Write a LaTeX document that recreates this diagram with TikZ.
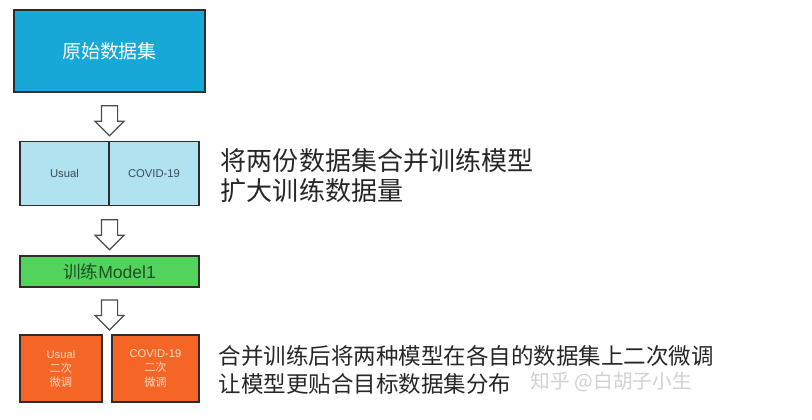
\documentclass[tikz,border=0pt]{standalone}
\usepackage{fontspec}
\setmainfont{Liberation Sans}
\newfontfamily\cjk{Noto Sans CJK SC}
\usetikzlibrary{shapes.arrows, calc}
\definecolor{rawblue}{RGB}{22, 168, 214}
\definecolor{mixblue}{RGB}{176, 226, 240}
\definecolor{traingreen}{RGB}{82, 212, 92}
\definecolor{darkgreen}{RGB}{30, 80, 35}
\definecolor{tuneorange}{RGB}{245, 102, 38}
\definecolor{paleorange}{RGB}{255, 218, 195}
\definecolor{edgegray}{RGB}{45, 45, 45}
\definecolor{labelgray}{RGB}{60, 75, 85}
\newcommand{\px}{0.025cm}

\tikzset{
  box/.style={draw=edgegray, line width=1pt, inner sep=0pt, align=center},
  downarrow/.style={single arrow, draw=black!70, fill=white, line width=0.8pt,
    rotate=-90, minimum height=30*\px, inner sep=7.5*\px,
    single arrow head extend=6.5*\px},
}

\begin{document}
\begin{tikzpicture}[x=\px, y=-\px]
  \useasboundingbox (0,0) rectangle (812,420);

  % data boxes
  \node[box, fill=rawblue, minimum width=191*\px, minimum height=82*\px, text=white,
    font=\cjk\fontsize{13.5}{16}\selectfont] (raw) at (109.5,51) {原始数据集};
  \node[box, fill=mixblue, minimum width=89*\px, minimum height=64*\px, text=labelgray,
    font=\fontsize{8}{10}\selectfont] (usual) at (64.5,173.5) {Usual};
  \node[box, fill=mixblue, minimum width=90*\px, minimum height=64*\px, text=labelgray,
    font=\fontsize{8}{10}\selectfont] (covid) at (154,173.5) {COVID-19};
  \node[box, fill=traingreen, minimum width=179*\px, minimum height=31*\px, text=darkgreen,
    font=\fontsize{12.5}{15}\selectfont] (model) at (109.5,271.5) {{\cjk 训练}Model1};
  \node[box, fill=tuneorange, minimum width=82*\px, minimum height=67*\px, text=paleorange,
    font=\fontsize{8}{10}\selectfont] (tuneusual) at (61,368.5) {Usual\\{\cjk 二次}\\{\cjk 微调}};
  \node[box, fill=tuneorange, minimum width=87*\px, minimum height=67*\px, text=paleorange,
    font=\fontsize{8}{10}\selectfont] (tunecovid) at (155.5,368.5) {COVID-19\\{\cjk 二次}\\{\cjk 微调}};

  % hollow arrows between steps
  \node[downarrow] (step1) at ($(raw.south)!0.5!(raw.south |- usual.north)$) {};
  \node[downarrow] (step2) at ($(model.north)!0.5!(model.north |- usual.south)$) {};
  \node[downarrow] (step3) at ($(model.south)!0.5!(model.south |- tuneusual.north)$) {};

  % notes
  \node[anchor=west, align=left, text=black!85, font=\cjk\fontsize{18.5}{21.3}\selectfont]
    (note1) at (216,176) {将两份数据集合并训练模型\\扩大训练数据量};
  \node[anchor=west, align=left, text=black!85, font=\cjk\fontsize{16}{20.3}\selectfont]
    (note2) at (214,370) {合并训练后将两种模型在各自的数据集上二次微调\\让模型更贴合目标数据集分布};
  \node[anchor=west, text=black!18, font=\cjk\fontsize{14}{16}\selectfont]
    (mark) at (526,382) {知乎 @白胡子小生};
\end{tikzpicture}
\end{document}
